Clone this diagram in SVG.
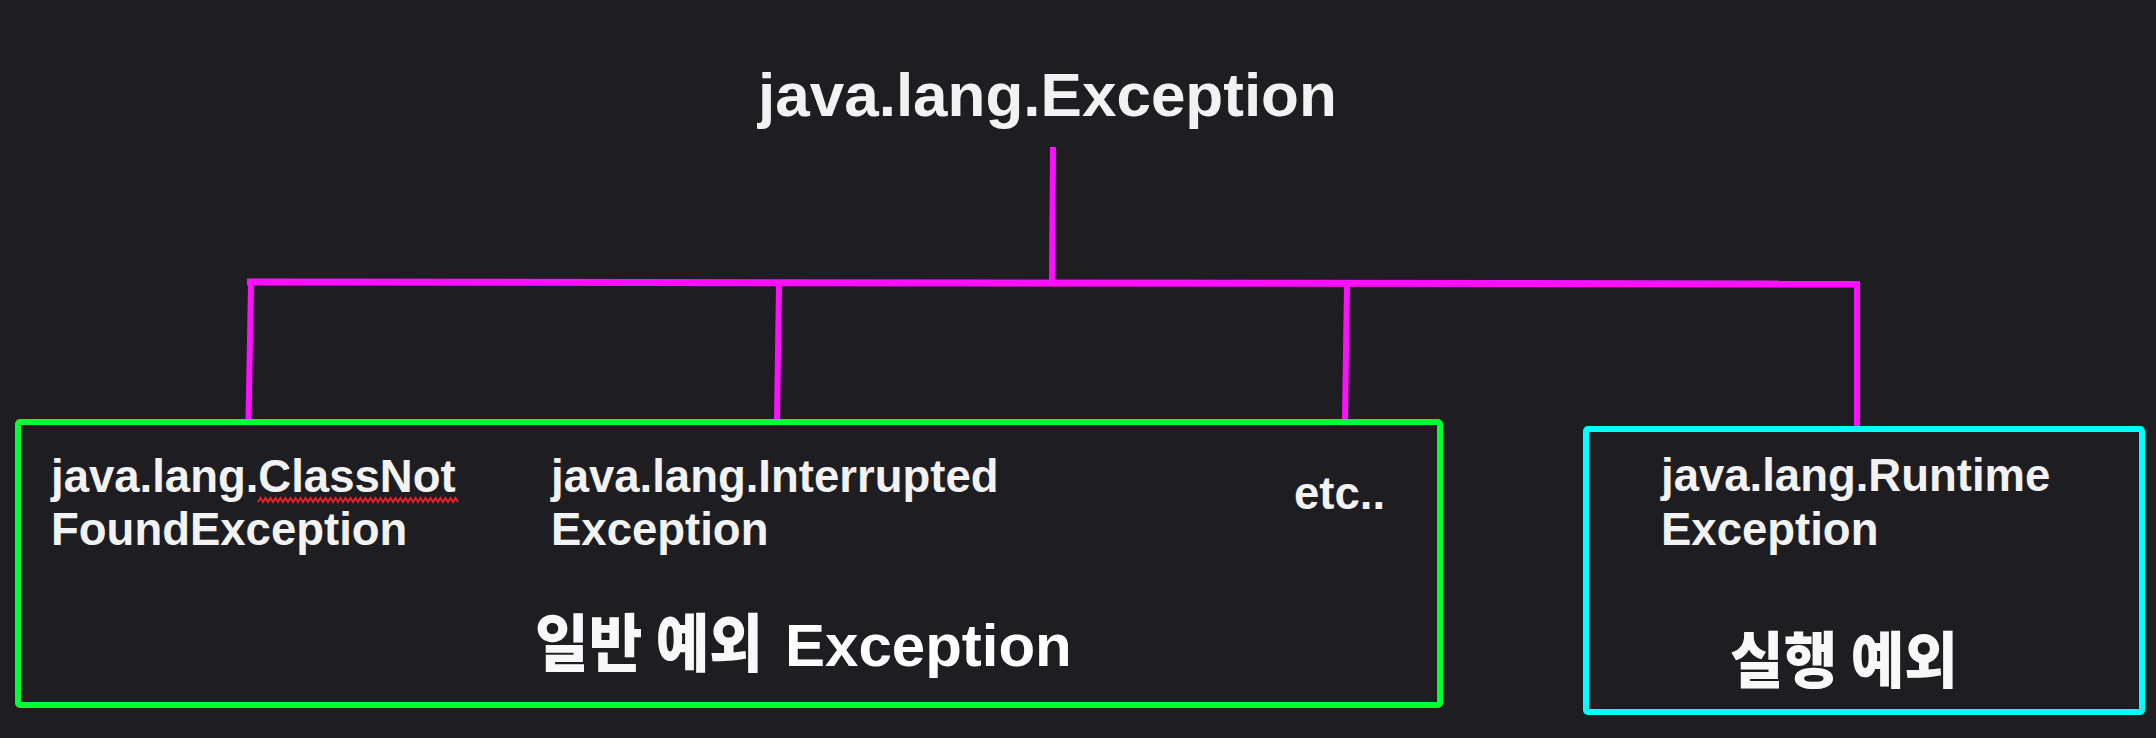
<svg xmlns="http://www.w3.org/2000/svg" width="2156" height="738" viewBox="0 0 2156 738">
<style>
.t{font-family:"Liberation Sans",Arial,sans-serif;font-weight:bold;fill:#f2f2f2}
.k{font-family:"Noto Sans CJK KR","Noto Sans",sans-serif;font-weight:900;fill:#f8f8f8}
.c{stroke:#ff0fff;fill:none;stroke-linecap:butt}
</style>
<rect x="0" y="0" width="2156" height="738" fill="#1e1e22"/>
<g id="connectors">
<line class="c" x1="1053" y1="147" x2="1052" y2="280" stroke-width="6"/>
<line class="c" x1="247" y1="282" x2="1860" y2="284" stroke-width="7"/>
<line class="c" x1="251" y1="285" x2="248.5" y2="419" stroke-width="6"/>
<line class="c" x1="779" y1="285" x2="777" y2="419" stroke-width="6"/>
<line class="c" x1="1347" y1="285" x2="1345" y2="419" stroke-width="6"/>
<line class="c" x1="1857" y1="285" x2="1857" y2="426" stroke-width="6"/>
</g>
<g id="root">
<text class="t" x="758" y="116" font-size="62">java.lang.Exception</text>
</g>
<g id="checked">
<rect x="18" y="422" width="1422" height="283" rx="2" fill="none" stroke="#00ff33" stroke-width="6"/>
<text class="t" x="51" y="492" font-size="45.5">java.lang.ClassNot</text>
<text class="t" x="51" y="545" font-size="45.5">FoundException</text>
<path d="M258,502 l2.5,-4 l2.5,4 l2.5,-4 l2.5,4 l2.5,-4 l2.5,4 l2.5,-4 l2.5,4 l2.5,-4 l2.5,4 l2.5,-4 l2.5,4 l2.5,-4 l2.5,4 l2.5,-4 l2.5,4 l2.5,-4 l2.5,4 l2.5,-4 l2.5,4 l2.5,-4 l2.5,4 l2.5,-4 l2.5,4 l2.5,-4 l2.5,4 l2.5,-4 l2.5,4 l2.5,-4 l2.5,4 l2.5,-4 l2.5,4 l2.5,-4 l2.5,4 l2.5,-4 l2.5,4 l2.5,-4 l2.5,4 l2.5,-4 l2.5,4 l2.5,-4 l2.5,4 l2.5,-4 l2.5,4 l2.5,-4 l2.5,4 l2.5,-4 l2.5,4 l2.5,-4 l2.5,4 l2.5,-4 l2.5,4 l2.5,-4 l2.5,4 l2.5,-4 l2.5,4 l2.5,-4 l2.5,4 l2.5,-4 l2.5,4 l2.5,-4 l2.5,4 l2.5,-4 l2.5,4 l2.5,-4 l2.5,4 l2.5,-4 l2.5,4 l2.5,-4 l2.5,4 l2.5,-4 l2.5,4 l2.5,-4 l2.5,4 l2.5,-4 l2.5,4 l2.5,-4 l2.5,4 l2.5,-4 l2.5,4" fill="none" stroke="#e0202a" stroke-width="2"/>
<text class="t" x="551" y="492" font-size="45.5">java.lang.Interrupted</text>
<text class="t" x="551" y="545" font-size="45.5">Exception</text>
<text class="t" x="1294" y="509" font-size="45.5">etc..</text>
<text class="k" x="535" y="666" font-size="63" textLength="228" lengthAdjust="spacingAndGlyphs">일반 예외</text>
<text class="t" x="785" y="666" font-size="60" style="fill:#ffffff">Exception</text>
</g>
<g id="runtime">
<rect x="1586" y="429" width="556" height="283" rx="2" fill="none" stroke="#00ffff" stroke-width="6"/>
<text class="t" x="1661" y="491" font-size="45.5">java.lang.Runtime</text>
<text class="t" x="1661" y="545" font-size="45.5">Exception</text>
<text class="k" x="1730" y="683" font-size="61" textLength="228" lengthAdjust="spacingAndGlyphs">실행 예외</text>
</g>
</svg>
